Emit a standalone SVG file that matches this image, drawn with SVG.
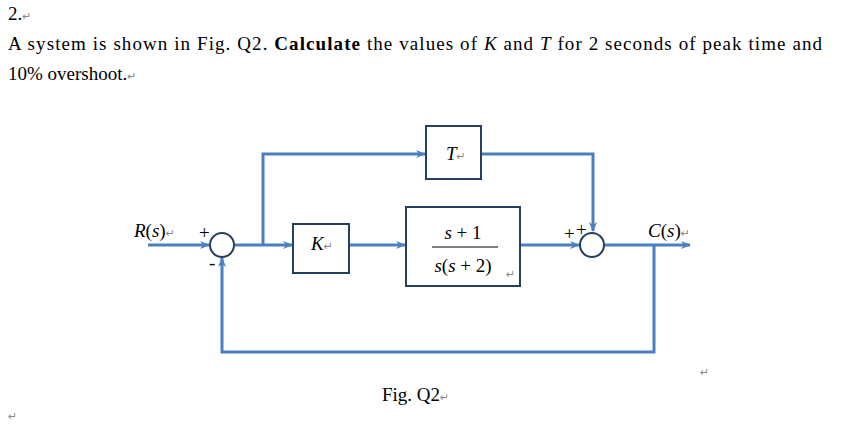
<svg xmlns="http://www.w3.org/2000/svg" width="854" height="432" viewBox="0 0 854 432">
<style>
.t{font-family:"Liberation Serif",serif;font-size:19px;fill:#000}
.i{font-style:italic}
.m{fill:#888;font-family:"DejaVu Sans",sans-serif;font-size:11px;font-style:normal}
.c{fill:none;stroke:#4a7fc1;stroke-width:3}
.b{fill:#fff;stroke:#243f60;stroke-width:2}
</style>
<defs><marker id="a" markerWidth="10" markerHeight="8" refX="9" refY="4" orient="auto" markerUnits="userSpaceOnUse"><path d="M0,0 L10,4 L0,8 L3,4z" fill="#4a7fc1"/></marker></defs>
<rect width="854" height="432" fill="#fff"/>
<text class="t" x="8" y="20">2.<tspan class="m">↵</tspan></text>
<text class="t" x="8" y="50" textLength="814" lengthAdjust="spacing">A system is shown in Fig. Q2. <tspan font-weight="bold">Calculate</tspan> the values of <tspan class="i">K</tspan> and <tspan class="i">T</tspan> for 2 seconds of peak time and</text>
<text class="t" x="8" y="80">10% overshoot.<tspan class="m">↵</tspan></text>
<g id="connectors">
<path class="c" d="M148,245 H209" marker-end="url(#a)"/>
<path class="c" d="M234,245 H292" marker-end="url(#a)"/>
<path class="c" d="M263,245 V154 H425" marker-end="url(#a)"/>
<path class="c" d="M482,154 H593 V231" marker-end="url(#a)"/>
<path class="c" d="M350,245 H405" marker-end="url(#a)"/>
<path class="c" d="M521,245 H579" marker-end="url(#a)"/>
<path class="c" d="M604,245 H690" marker-end="url(#a)"/>
<path class="c" d="M654,245 V352 H222 V258" marker-end="url(#a)"/>
</g>
<g id="sum1"><circle cx="222" cy="245" r="12" class="b"/><text class="t" x="199" y="239" font-size="14">+</text><text class="t" x="209" y="269" font-size="14">-</text></g>
<g id="sum2"><circle cx="592" cy="245" r="12" class="b"/><text class="t" x="564" y="240" font-size="14">+</text><text class="t" x="576" y="236" font-size="14">+</text></g>
<g id="K"><rect x="293" y="224" width="56" height="49" class="b"/><text class="t i" x="311" y="250">K<tspan class="m">↵</tspan></text></g>
<g id="G"><rect x="406" y="207" width="114" height="79" class="b"/>
<text class="t i" x="463" y="239" text-anchor="middle">s<tspan font-style="normal"> + 1</tspan></text>
<line x1="432" y1="247" x2="498" y2="247" stroke="#000" stroke-width="1"/>
<text class="t i" x="463" y="272" text-anchor="middle">s<tspan font-style="normal">(</tspan>s<tspan font-style="normal"> + 2)</tspan></text><text class="m" x="506" y="278">↵</text></g>
<g id="T"><rect x="426" y="126" width="55" height="53" class="b"/><text class="t i" x="446" y="160">T<tspan class="m">↵</tspan></text></g>
<text class="t i" x="134" y="237">R<tspan font-style="normal">(</tspan>s<tspan font-style="normal">)</tspan><tspan class="m">↵</tspan></text>
<text class="t i" x="648" y="237">C<tspan font-style="normal">(</tspan>s<tspan font-style="normal">)</tspan><tspan class="m">↵</tspan></text>
<text class="t" x="382" y="401">Fig. Q2<tspan class="m">↵</tspan></text>
<text class="m" x="700" y="376">↵</text>
<text class="m" x="8" y="420">↵</text>
</svg>
